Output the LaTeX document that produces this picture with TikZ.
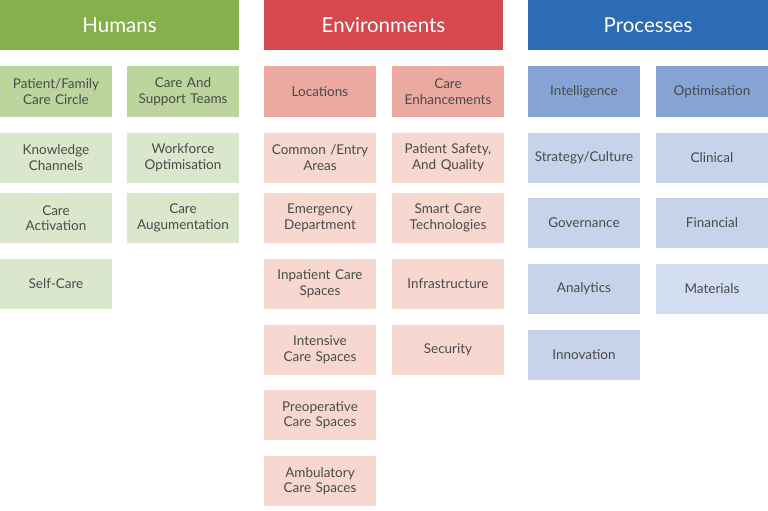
\documentclass[tikz,border=0pt]{standalone}
\usepackage{fontspec}
\setmainfont{Lato}
\definecolor{hHead}{HTML}{86B04B}
\definecolor{hSub}{HTML}{BCD59C}
\definecolor{hBox}{HTML}{DBE7CC}
\definecolor{eHead}{HTML}{D5494E}
\definecolor{eSub}{HTML}{EAAA9F}
\definecolor{eBox}{HTML}{F7D8D1}
\definecolor{pHead}{HTML}{2C6BB5}
\definecolor{pSub}{HTML}{85A3D3}
\definecolor{pBox}{HTML}{C7D3EB}
\definecolor{pLight}{HTML}{D3DDF0}
\definecolor{txt}{HTML}{4A4A4A}
\tikzset{
  headbox/.style={minimum width=239pt, minimum height=50pt, inner sep=0pt,
    text=white, font=\fontsize{20.5}{23}\selectfont},
  cellbox/.style={minimum width=112pt, minimum height=50pt, inner sep=0pt,
    text width=111pt, align=center, text=txt, font=\fontsize{13.5}{15.5}\selectfont},
}
\begin{document}
\begin{tikzpicture}[x=1pt,y=1pt]
\useasboundingbox (0,0) rectangle (768,-511);
% headers
\node[headbox, fill=hHead] (hum) at (119.5,-25.5) {Humans};
\node[headbox, fill=eHead] (env) at (383.5,-25.5) {Environments};
\node[headbox, fill=pHead, minimum width=240pt] (pro) at (648,-25.5) {Processes};
% Humans
\node[cellbox, fill=hSub] (h11) at (56,-91.5) {Patient/Family\\Care Circle};
\node[cellbox, fill=hSub] (h21) at (183,-91.5) {Care And\\Support Teams};
\node[cellbox, fill=hBox] (h12) at (56,-157.5) {Knowledge\\Channels};
\node[cellbox, fill=hBox] (h22) at (183,-157.5) {Workforce\\Optimisation};
\node[cellbox, fill=hBox] (h13) at (56,-218) {Care\\Activation};
\node[cellbox, fill=hBox] (h23) at (183,-218) {Care\\Augumentation};
\node[cellbox, fill=hBox] (h14) at (56,-283.5) {Self-Care};
% Environments
\node[cellbox, fill=eSub] (e11) at (320,-91.5) {Locations};
\node[cellbox, fill=eSub] (e21) at (448,-91.5) {Care\\Enhancements};
\node[cellbox, fill=eBox] (e12) at (320,-157.5) {Common /Entry\\Areas};
\node[cellbox, fill=eBox] (e22) at (448,-157.5) {Patient Safety,\\And Quality};
\node[cellbox, fill=eBox] (e13) at (320,-218) {Emergency\\Department};
\node[cellbox, fill=eBox] (e23) at (448,-218) {Smart Care\\Technologies};
\node[cellbox, fill=eBox] (e14) at (320,-283.5) {Inpatient Care\\Spaces};
\node[cellbox, fill=eBox] (e24) at (448,-283.5) {Infrastructure};
\node[cellbox, fill=eBox] (e15) at (320,-349.5) {Intensive\\Care Spaces};
\node[cellbox, fill=eBox] (e25) at (448,-349.5) {Security};
\node[cellbox, fill=eBox] (e16) at (320,-415) {Preoperative\\Care Spaces};
\node[cellbox, fill=eBox] (e17) at (320,-481) {Ambulatory\\Care Spaces};
% Processes
\node[cellbox, fill=pSub] (p11) at (584,-91.5) {Intelligence};
\node[cellbox, fill=pSub] (p21) at (712,-91.5) {Optimisation};
\node[cellbox, fill=pBox] (p12) at (584,-157.5) {Strategy/Culture};
\node[cellbox, fill=pBox] (p22) at (712,-157.5) {Clinical};
\node[cellbox, fill=pBox] (p13) at (584,-223) {Governance};
\node[cellbox, fill=pBox] (p23) at (712,-223) {Financial};
\node[cellbox, fill=pBox] (p14) at (584,-288.5) {Analytics};
\node[cellbox, fill=pLight] (p24) at (712,-288.5) {Materials};
\node[cellbox, fill=pBox] (p15) at (584,-354.5) {Innovation};
\end{tikzpicture}
\end{document}
